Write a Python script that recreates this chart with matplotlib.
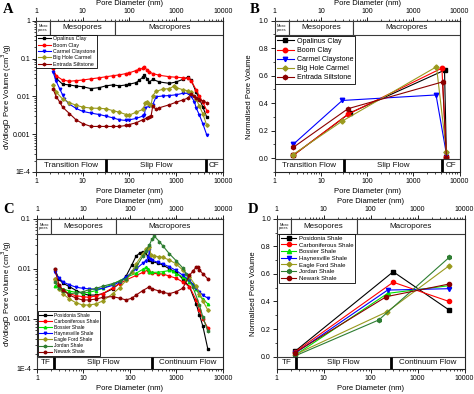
import numpy as np
import matplotlib
matplotlib.use('Agg')
import matplotlib.pyplot as plt
from matplotlib.patches import Rectangle
from matplotlib.transforms import blended_transform_factory
from matplotlib.ticker import FixedLocator, FixedFormatter, LogLocator, NullFormatter, MultipleLocator

plt.rcParams['font.family'] = ['Liberation Sans', 'DejaVu Sans']

# ---------------- Panel A data (dV/dlogD, cm3/g) ----------------
a_names = ['Opalinus Clay', 'Boom Clay', 'Carmel Claystone', 'Big Hole Carmel', 'Entrada Siltstone']
a_opal_x = [2.3, 2.7, 3.7, 5.2, 7.2, 10, 15, 22.8, 31.6, 44, 61, 85, 100, 139, 164, 193, 210, 240, 268, 316, 440, 720, 1000, 1390, 1780, 2100, 2680, 3160, 3730, 4540]
a_opal_y = [0.055, 0.030, 0.021, 0.020, 0.0187, 0.018, 0.016, 0.017, 0.019, 0.020, 0.019, 0.020, 0.021, 0.023, 0.027, 0.032, 0.036, 0.029, 0.024, 0.028, 0.024, 0.022, 0.024, 0.028, 0.032, 0.027, 0.013, 0.0085, 0.0053, 0.0028]
a_boom_x = [2.3, 2.7, 3.7, 5.2, 7.2, 10, 15, 22.8, 31.6, 44, 61, 85, 100, 139, 164, 193, 210, 240, 268, 316, 440, 720, 1000, 1390, 1780, 2100, 2680, 3160, 3730, 4540]
a_boom_y = [0.055, 0.035, 0.027, 0.025, 0.026, 0.027, 0.029, 0.031, 0.033, 0.035, 0.037, 0.040, 0.042, 0.048, 0.052, 0.055, 0.058, 0.050, 0.044, 0.040, 0.036, 0.033, 0.032, 0.031, 0.030, 0.026, 0.015, 0.010, 0.0070, 0.0042]
a_carm_x = [2.3, 2.7, 3.2, 3.7, 4.05, 5.2, 7.2, 10, 15, 22.8, 31.6, 44, 61, 85, 100, 139, 193, 210, 220, 268, 291, 316, 373, 518, 720, 1000, 1390, 1780, 2100, 2470, 2680, 3160, 3730, 4540]
a_carm_y = [0.045, 0.025, 0.016, 0.011, 0.0085, 0.0062, 0.0048, 0.0040, 0.0036, 0.0033, 0.0030, 0.0027, 0.0024, 0.0023, 0.0024, 0.0026, 0.0030, 0.0032, 0.0050, 0.0055, 0.0058, 0.0060, 0.0098, 0.0102, 0.0105, 0.011, 0.012, 0.012, 0.010, 0.0072, 0.0050, 0.0032, 0.0019, 0.00095]
a_bigh_x = [2.3, 2.7, 3.7, 5.2, 7.2, 10, 15, 22.8, 31.6, 44, 61, 85, 100, 139, 193, 220, 240, 268, 291, 316, 373, 518, 720, 921, 1000, 1390, 1780, 2100, 2680, 3160, 3730, 4540]
a_bigh_y = [0.020, 0.013, 0.0085, 0.0068, 0.0058, 0.0052, 0.0049, 0.0048, 0.0047, 0.0042, 0.0038, 0.0033, 0.0032, 0.0038, 0.0045, 0.0065, 0.0072, 0.0062, 0.0058, 0.0105, 0.0135, 0.0155, 0.016, 0.019, 0.017, 0.015, 0.014, 0.013, 0.0085, 0.0055, 0.0035, 0.0017]
a_entr_x = [2.3, 2.7, 3.2, 3.7, 5.2, 7.2, 10, 15, 22.8, 31.6, 44, 61, 85, 100, 139, 193, 240, 268, 291, 316, 373, 440, 720, 1000, 1390, 1780, 2100, 2470, 2680, 3160, 3730, 4540]
a_entr_y = [0.016, 0.0098, 0.0072, 0.0052, 0.0035, 0.0024, 0.0019, 0.0016, 0.0016, 0.0016, 0.0016, 0.0016, 0.0017, 0.0018, 0.0020, 0.0024, 0.0027, 0.0029, 0.0030, 0.0055, 0.0045, 0.0050, 0.0060, 0.0070, 0.0080, 0.0090, 0.0115, 0.0100, 0.0090, 0.0082, 0.0076, 0.0068]

# ---------------- Panel B data (normalised) ----------------
b_opal_x = [2.5, 43, 4730, 5200]; b_opal_y = [0.02, 0.33, 0.64, 0.01]
b_boom_x = [2.5, 38.5, 4150, 5200]; b_boom_y = [0.02, 0.32, 0.655, 0.01]
b_carm_x = [2.5, 29, 3100, 5200]; b_carm_y = [0.10, 0.42, 0.46, 0.03]
b_bigh_x = [2.5, 29, 3170, 5200]; b_bigh_y = [0.027, 0.27, 0.665, 0.045]
b_entr_x = [2.5, 38.5, 4300, 5200]; b_entr_y = [0.078, 0.36, 0.555, 0.005]

# ---------------- Panel C data (dV/dlogD, cm3/g) ----------------
c_names = ['Posidonia Shale', 'Carboniferous Shale', 'Bossier Shale', 'Haynesville Shale', 'Eagle Ford Shale', 'Jordan Shale', 'Newark Shale']
c_posi_x = [2.4, 3.0, 3.6, 5.0, 7, 9.6, 13, 19, 26, 43, 60, 83, 110, 136, 165, 190, 215, 243, 264, 300, 400, 511, 711, 990, 1370, 1920, 2670, 3150, 3720, 4770]
c_posi_y = [0.010, 0.0062, 0.0052, 0.0044, 0.0037, 0.0032, 0.0030, 0.0030, 0.0032, 0.0040, 0.0052, 0.0072, 0.012, 0.018, 0.021, 0.022, 0.021, 0.018, 0.015, 0.014, 0.013, 0.012, 0.010, 0.0086, 0.0063, 0.0044, 0.0020, 0.0012, 0.00072, 0.00025]
c_carb_x = [2.4, 3.0, 3.6, 5.0, 7, 9.6, 13, 19, 26, 43, 60, 83, 136, 190, 243, 264, 300, 400, 511, 711, 990, 1370, 1920, 2670, 3150, 3720, 4770]
c_carb_y = [0.0063, 0.0045, 0.0038, 0.0032, 0.0029, 0.0028, 0.0027, 0.0029, 0.0032, 0.0042, 0.0051, 0.0060, 0.0074, 0.0085, 0.0095, 0.0086, 0.0082, 0.0080, 0.0079, 0.0072, 0.0065, 0.0055, 0.0044, 0.0024, 0.0015, 0.0010, 0.00066]
c_boss_x = [2.4, 3.0, 3.6, 5.0, 7, 9.6, 13, 19, 26, 43, 60, 83, 136, 190, 223, 243, 264, 300, 400, 511, 711, 839, 990, 1370, 1630, 1920, 2260, 2670, 3150, 3720, 4770]
c_boss_y = [0.0045, 0.0042, 0.0040, 0.0036, 0.0034, 0.0033, 0.0034, 0.0037, 0.0041, 0.0050, 0.0058, 0.0068, 0.0082, 0.0098, 0.0108, 0.0098, 0.0088, 0.0085, 0.0086, 0.0088, 0.0093, 0.0090, 0.0080, 0.0070, 0.0062, 0.0055, 0.0050, 0.0040, 0.0030, 0.0025, 0.0020]
c_hayn_x = [2.4, 3.0, 3.6, 5.0, 7, 9.6, 13, 19, 26, 43, 60, 83, 110, 136, 190, 223, 250, 264, 275, 300, 400, 511, 711, 990, 1370, 1920, 2670, 3150, 3720, 4770]
c_hayn_y = [0.0086, 0.0065, 0.0055, 0.0048, 0.0043, 0.0041, 0.0040, 0.0039, 0.0041, 0.0047, 0.0055, 0.0069, 0.0085, 0.010, 0.013, 0.0146, 0.017, 0.024, 0.016, 0.0150, 0.0135, 0.0126, 0.011, 0.0093, 0.0075, 0.0059, 0.0042, 0.0035, 0.0030, 0.0026]
c_eagl_x = [2.4, 3.0, 3.6, 5.0, 7, 9.6, 13, 19, 26, 43, 60, 83, 110, 136, 190, 223, 243, 264, 286, 338, 433, 511, 711, 990, 1370, 1920, 2670, 3150, 3720, 4770]
c_eagl_y = [0.0063, 0.0040, 0.0032, 0.0025, 0.0021, 0.0019, 0.0019, 0.0020, 0.0023, 0.0032, 0.0042, 0.0059, 0.0088, 0.0126, 0.020, 0.0245, 0.026, 0.027, 0.019, 0.018, 0.0175, 0.017, 0.015, 0.0126, 0.0095, 0.0069, 0.0045, 0.0032, 0.0023, 0.0015]
c_jord_x = [2.4, 3.0, 3.6, 5.0, 7, 9.6, 13, 19, 26, 43, 60, 83, 136, 190, 223, 264, 300, 338, 433, 511, 711, 990, 1370, 1630, 2260, 3150, 3720, 4770]
c_jord_y = [0.0055, 0.0041, 0.0036, 0.0032, 0.0033, 0.0035, 0.0038, 0.0041, 0.0045, 0.0051, 0.0057, 0.0063, 0.0108, 0.018, 0.023, 0.030, 0.040, 0.045, 0.035, 0.029, 0.020, 0.0146, 0.0105, 0.008, 0.0044, 0.0019, 0.0011, 0.00057]
c_newa_x = [2.4, 3.0, 3.6, 5.0, 7, 9.6, 13, 19, 26, 43, 60, 83, 110, 136, 190, 264, 300, 433, 511, 711, 990, 1370, 1920, 2260, 2670, 2900, 3150, 3720, 4770]
c_newa_y = [0.010, 0.0047, 0.0038, 0.0030, 0.0026, 0.0024, 0.0024, 0.0025, 0.0027, 0.0028, 0.0026, 0.0024, 0.0026, 0.0030, 0.0037, 0.0044, 0.0040, 0.0036, 0.0034, 0.0032, 0.0035, 0.0041, 0.0074, 0.0090, 0.0108, 0.0110, 0.0095, 0.0080, 0.0063]

# ---------------- Panel D data (normalised) ----------------
d_posi_x = [2.45, 302, 4700]; d_posi_y = [0.039, 0.616, 0.338]
d_carb_x = [2.45, 302, 4700]; d_carb_y = [0.034, 0.54, 0.40]
d_boss_x = [2.45, 230, 4700]; d_boss_y = [0.010, 0.459, 0.515]
d_hayn_x = [2.45, 230, 4700]; d_hayn_y = [0.024, 0.483, 0.493]
d_eagl_x = [2.45, 225, 4700]; d_eagl_y = [0.015, 0.326, 0.66]
d_jord_x = [2.45, 149, 4700]; d_jord_y = [0.005, 0.266, 0.72]
d_newa_x = [2.45, 215, 4700]; d_newa_y = [0.029, 0.435, 0.527]

x_ticks = [1, 10, 100, 1000, 10000]
x_ticklabels = ['1', '10', '100', '1000', '10000']
log_yticks_A = [1e-4, 1e-3, 1e-2, 1e-1, 1]
log_ylabels_A = ['1E-4', '0.001', '0.01', '0.1', '1']
log_yticks_C = [1e-4, 1e-3, 1e-2, 1e-1]
log_ylabels_C = ['1E-4', '0.001', '0.01', '0.1']

COL = {'black': '#000000', 'red': '#ff0000', 'blue': '#0000ff', 'olive': '#9a9a1e',
       'wine': '#8b0000', 'lime': '#00e000', 'dgreen': '#2e7d32'}

FS_TICK = 5.0
FS_LAB = 5.5
FS_BAND = 5.8

fig = plt.figure(figsize=(4.74, 3.94), dpi=100)
axA = fig.add_axes([0.076, 0.5635, 0.394, 0.384])
axB = fig.add_axes([0.5795, 0.5635, 0.390, 0.384])
axC = fig.add_axes([0.078, 0.0635, 0.392, 0.381])
axD = fig.add_axes([0.584, 0.0635, 0.396, 0.381])


def style(ax, ylog, ylim, ylabel, ylab_x, yticks=None, ylabels=None):
    ax.set_xscale('log')
    ax.set_xlim(1, 10000)
    ax.xaxis.set_major_locator(FixedLocator(x_ticks))
    ax.xaxis.set_major_formatter(FixedFormatter(x_ticklabels))
    ax.xaxis.set_minor_locator(LogLocator(base=10, subs=np.arange(2, 10), numticks=20))
    ax.xaxis.set_minor_formatter(NullFormatter())
    if ylog:
        ax.set_yscale('log')
        ax.set_ylim(*ylim)
        ax.yaxis.set_major_locator(FixedLocator(yticks))
        ax.yaxis.set_major_formatter(FixedFormatter(ylabels))
        ax.yaxis.set_minor_locator(LogLocator(base=10, subs=np.arange(2, 10), numticks=20))
        ax.yaxis.set_minor_formatter(NullFormatter())
    else:
        ax.set_ylim(*ylim)
        ax.yaxis.set_major_locator(MultipleLocator(0.2))
        ax.yaxis.set_minor_locator(MultipleLocator(0.1))
        ax.yaxis.set_major_formatter(plt.FuncFormatter(lambda v, p: f'{v:.1f}'))
    ax.tick_params(which='major', direction='out', length=2.8, width=0.6, labelsize=FS_TICK, pad=1.5)
    ax.tick_params(which='minor', direction='out', length=1.4, width=0.5)
    for s in ax.spines.values():
        s.set_linewidth(0.8)
        s.set_color('#222222')
    ax.set_xlabel('Pore Diameter (nm)', fontsize=FS_LAB, labelpad=2)
    ax.set_ylabel(ylabel, fontsize=FS_LAB)
    ax.yaxis.set_label_coords(ylab_x, 0.5)
    sec = ax.secondary_xaxis('top')
    sec.xaxis.set_major_locator(FixedLocator(x_ticks))
    sec.xaxis.set_major_formatter(FixedFormatter(x_ticklabels))
    sec.xaxis.set_minor_locator(LogLocator(base=10, subs=np.arange(2, 10), numticks=20))
    sec.xaxis.set_minor_formatter(NullFormatter())
    sec.tick_params(which='major', direction='out', length=2.8, width=0.6, labelsize=FS_TICK, pad=1.5)
    sec.tick_params(which='minor', direction='out', length=1.4, width=0.5)
    sec.set_xlabel('Pore Diameter (nm)', fontsize=FS_LAB, labelpad=2)
    sec.spines['top'].set_linewidth(0.8)


def bands(ax, bottom, dividers, top_h=0.093, bot_h=0.084):
    tr = blended_transform_factory(ax.transData, ax.transAxes)
    top = [(1, 2, 'Micro\npores', 2.8), (2, 50, 'Mesopores', FS_BAND), (50, 10000, 'Macropores', FS_BAND)]
    for x0, x1, lab, fs in top:
        ax.add_patch(Rectangle((x0, 1 - top_h), x1 - x0, top_h, transform=tr, facecolor='white',
                               edgecolor='#3a3a3a', lw=0.8, zorder=5))
        ax.text(np.sqrt(x0 * x1), 1 - top_h / 2, lab, transform=tr, ha='center', va='center',
                fontsize=fs, zorder=6, linespacing=0.9, color='#111111')
    for x0, x1, lab in bottom:
        ax.add_patch(Rectangle((x0, 0), x1 - x0, bot_h, transform=tr, facecolor='white',
                               edgecolor='#3a3a3a', lw=0.8, zorder=5))
        ax.text(np.sqrt(x0 * x1), bot_h / 2, lab, transform=tr, ha='center', va='center',
                fontsize=FS_BAND, zorder=6, color='#111111')
    for d in dividers:
        ax.plot([d, d], [0, bot_h], transform=tr, color='black', lw=2.0, zorder=7, solid_capstyle='butt')


# ---------------- Panel A ----------------
a_series = [(a_opal_x, a_opal_y, COL['black'], 's'), (a_boom_x, a_boom_y, COL['red'], 'o'),
            (a_carm_x, a_carm_y, COL['blue'], 'v'), (a_bigh_x, a_bigh_y, COL['olive'], 'D'),
            (a_entr_x, a_entr_y, COL['wine'], 'h')]
for (x, y, c, m), n in zip(a_series, a_names):
    axA.plot(x, y, color=c, marker=m, ms=1.8, lw=0.8, label=n)
style(axA, True, (1e-4, 1), 'dV/dlogD Pore Volume (cm$^3$/g)', -0.118, log_yticks_A, log_ylabels_A)
bands(axA, [(1, 32, 'Transition Flow'), (32, 4300, 'Slip Flow'), (4300, 10000, 'CF')], [32, 4300])
legA = axA.legend(loc='upper left', bbox_to_anchor=(0.0, 0.907), fontsize=3.8, frameon=True, fancybox=False,
                  edgecolor='black', framealpha=1, handlelength=2.6, handletextpad=0.4, borderpad=0.3,
                  labelspacing=0.25, borderaxespad=0)
legA.get_frame().set_linewidth(0.6)
legA.set_zorder(8)

# ---------------- Panel B ----------------
b_series = [(b_opal_x, b_opal_y, COL['black'], 's'), (b_boom_x, b_boom_y, COL['red'], 'o'),
            (b_carm_x, b_carm_y, COL['blue'], 'v'), (b_bigh_x, b_bigh_y, COL['olive'], 'D'),
            (b_entr_x, b_entr_y, COL['wine'], 'h')]
for (x, y, c, m), n in zip(b_series, a_names):
    axB.plot(x, y, color=c, marker=m, ms=3.2 if m != 'D' else 2.6, lw=0.8, label=n)
style(axB, False, (-0.1, 1.0), 'Normalised Pore Volume', -0.117)
bands(axB, [(1, 32, 'Transition Flow'), (32, 4100, 'Slip Flow'), (4100, 10000, 'CF')], [32, 4100])
legB = axB.legend(loc='upper left', bbox_to_anchor=(0.0, 0.9), fontsize=5.1, frameon=True, fancybox=False,
                  edgecolor='black', framealpha=1, handlelength=2.4, handletextpad=0.4, borderpad=0.3,
                  labelspacing=0.3, borderaxespad=0)
legB.get_frame().set_linewidth(0.6)
legB.set_zorder(8)

# ---------------- Panel C ----------------
c_series = [(c_posi_x, c_posi_y, COL['black'], 's'), (c_carb_x, c_carb_y, COL['red'], 'o'),
            (c_boss_x, c_boss_y, COL['lime'], '^'), (c_hayn_x, c_hayn_y, COL['blue'], 'v'),
            (c_eagl_x, c_eagl_y, COL['olive'], 'D'), (c_jord_x, c_jord_y, COL['dgreen'], 'h'),
            (c_newa_x, c_newa_y, COL['wine'], 'o')]
for (x, y, c, m), n in zip(c_series, c_names):
    axC.plot(x, y, color=c, marker=m, ms=1.8, lw=0.8, label=n)
style(axC, True, (1e-4, 0.1), 'dV/dlogD Pore Volume (cm$^3$/g)', -0.124, log_yticks_C, log_ylabels_C)
bands(axC, [(1, 2.35, 'TF'), (2.35, 300, 'Slip Flow'), (300, 10000, 'Continuum Flow')], [2.35, 300],
      top_h=0.1, bot_h=0.082)
legC = axC.legend(loc='lower left', bbox_to_anchor=(0.004, 0.088), fontsize=3.5, frameon=True, fancybox=False,
                  edgecolor='black', framealpha=1, handlelength=2.6, handletextpad=0.4, borderpad=0.3,
                  labelspacing=0.22, borderaxespad=0)
legC.get_frame().set_linewidth(0.6)
legC.set_zorder(8)

# ---------------- Panel D ----------------
d_series = [(d_posi_x, d_posi_y, COL['black'], 's'), (d_carb_x, d_carb_y, COL['red'], 'o'),
            (d_boss_x, d_boss_y, COL['lime'], '^'), (d_hayn_x, d_hayn_y, COL['blue'], 'v'),
            (d_eagl_x, d_eagl_y, COL['olive'], 'D'), (d_jord_x, d_jord_y, COL['dgreen'], 'h'),
            (d_newa_x, d_newa_y, COL['wine'], 'o')]
for (x, y, c, m), n in zip(d_series, c_names):
    axD.plot(x, y, color=c, marker=m, ms=3.0 if m != 'D' else 2.5, lw=0.8, label=n)
style(axD, False, (-0.09, 1.0), 'Normalised Pore Volume', -0.103)
bands(axD, [(1, 2.55, 'TF'), (2.55, 275, 'Slip Flow'), (275, 10000, 'Continuum Flow')], [2.55, 275],
      top_h=0.1, bot_h=0.082)
legD = axD.legend(loc='upper left', bbox_to_anchor=(0.012, 0.9), fontsize=4.3, frameon=True, fancybox=False,
                  edgecolor='black', framealpha=1, handlelength=2.6, handletextpad=0.4, borderpad=0.3,
                  labelspacing=0.25, borderaxespad=0)
legD.get_frame().set_linewidth(0.6)
legD.set_zorder(8)

# Panel letters
for txt, x, y in [('A', 0.018, 0.975), ('B', 0.537, 0.975), ('C', 0.018, 0.468), ('D', 0.533, 0.468)]:
    fig.text(x, y, txt, fontsize=10.5, fontweight='bold', family=['Liberation Serif', 'DejaVu Serif'],
             ha='center', va='center')

fig.savefig('out.png', dpi=100)
